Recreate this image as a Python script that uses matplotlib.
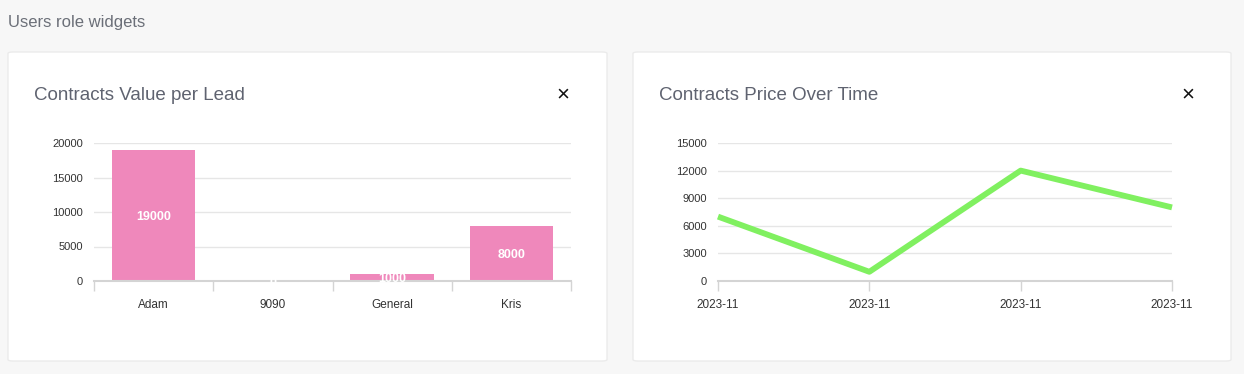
import numpy as np
import matplotlib
matplotlib.use("Agg")
from matplotlib import pyplot as plt
from matplotlib.patches import FancyBboxPatch

leads = ["Adam", "9090", "General", "Kris"]
lead_values = [19000, 0, 1000, 8000]

months = ["2023-11", "2023-11", "2023-11", "2023-11"]
prices = [7000, 1000, 12000, 8000]

W, H = 1244, 374
plt.rcParams['font.family'] = ['Liberation Sans', 'DejaVu Sans']

fig = plt.figure(figsize=(W / 100, H / 100), dpi=100)
fig.patch.set_facecolor('#f7f7f7')


def px(x, y):
    # pixel coords (top-left origin) -> figure fraction
    return x / W, 1 - y / H


def box(x0, y0, x1, y1):
    return [x0 / W, 1 - y1 / H, (x1 - x0) / W, (y1 - y0) / H]


# cards
for x0, x1 in [(8, 607), (633, 1231)]:
    l, b = px(x0, 361)
    card = FancyBboxPatch((l, b), (x1 - x0) / W, (361 - 52) / H,
                          boxstyle="round,pad=0,rounding_size=0.004",
                          transform=fig.transFigure, facecolor='white',
                          edgecolor='#ebebeb', linewidth=1, zorder=-5)
    fig.patches.append(card)

fig.text(*px(8, 22), "Users role widgets", fontsize=12, color='#6b6f78', va='center', ha='left')
fig.text(*px(34, 95), "Contracts Value per Lead", fontsize=13.5, color='#5f6370', va='center', ha='left')
fig.text(*px(659, 95), "Contracts Price Over Time", fontsize=13.5, color='#5f6370', va='center', ha='left')
fig.text(*px(563, 95), "\u00d7", fontsize=16, color='#111111', va='center', ha='center')
fig.text(*px(1188, 95), "\u00d7", fontsize=16, color='#111111', va='center', ha='center')


def style_axes(ax):
    ax.set_facecolor('none')
    ax.set_zorder(2)
    for s in ['top', 'right', 'left']:
        ax.spines[s].set_visible(False)
    ax.spines['bottom'].set_color('#d4d4d4')
    ax.spines['bottom'].set_linewidth(1.5)
    ax.grid(axis='y', color='#e6e6e6', linewidth=1)
    ax.set_axisbelow(True)
    ax.tick_params(axis='y', length=0, pad=8, labelsize=8, labelcolor='#333333')
    ax.tick_params(axis='x', which='both', labelsize=8.5, labelcolor='#333333', color='#d4d4d4')


# bar chart
ax1 = fig.add_axes(box(94, 143, 571, 281))
xpos = np.arange(len(leads))
bars = ax1.bar(xpos, lead_values, width=0.7, color='#ef88bb', zorder=2)
for x, v in zip(xpos, lead_values):
    ax1.text(x, v / 2, str(v), color='white', fontsize=9, fontweight='bold',
             ha='center', va='center_baseline', zorder=3)
ax1.set_xlim(-0.5, len(leads) - 0.5)
ax1.set_ylim(0, 20000)
ax1.set_yticks([0, 5000, 10000, 15000, 20000])
ax1.set_xticks(xpos)
ax1.set_xticklabels(leads)
ax1.set_xticks(np.arange(-0.5, len(leads)), minor=True)
style_axes(ax1)
ax1.tick_params(axis='x', which='major', length=0, pad=13)
ax1.tick_params(axis='x', which='minor', length=7, width=1)

# line chart
ax2 = fig.add_axes(box(718, 143, 1172, 281))
tpos = np.arange(len(months))
ax2.plot(tpos, prices, color='#80f060', linewidth=4.2, solid_capstyle='butt',
         clip_on=False, zorder=3)
ax2.set_xlim(0, len(months) - 1)
ax2.set_ylim(0, 15000)
ax2.set_yticks([0, 3000, 6000, 9000, 12000, 15000])
ax2.set_xticks(tpos)
ax2.set_xticklabels(months)
style_axes(ax2)
ax2.tick_params(axis='x', which='major', length=7, width=1, pad=6)

fig.savefig("out.png", dpi=100, facecolor=fig.get_facecolor())
